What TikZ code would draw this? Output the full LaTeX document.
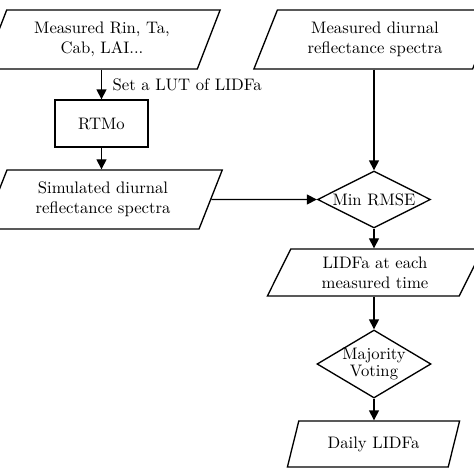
\documentclass[tikz,border=0pt]{standalone}
\usepackage{amsmath,amssymb}
\usepackage{tikz}
\usepackage{xcolor}
\usetikzlibrary{shapes.geometric,arrows.meta}

\begin{document}
\begin{tikzpicture}[x=0.6pt,y=-0.6pt,line width=0.8pt,
  >={Triangle[length=6pt,width=6pt]},
  iobox/.style={draw,trapezium,trapezium left angle=65,trapezium right angle=115,
    trapezium stretches=true,inner sep=0pt,align=center},
  procbox/.style={draw,rectangle,inner sep=0pt,align=center},
  decbox/.style={draw,diamond,inner sep=0pt,align=center}]
\useasboundingbox (0,0) rectangle (474,474);
\clip (0,0) rectangle (474,474);
\node[iobox,minimum width=142.2pt,minimum height=35.4pt] (meas) at (102,39.5) {Measured Rin, Ta,\\Cab, LAI...};
\node[iobox,minimum width=146.4pt,minimum height=35.4pt] (spec) at (375,39.5) {Measured diurnal\\reflectance spectra};
\node[procbox,minimum width=55.8pt,minimum height=28.2pt] (rtmo) at (101.5,123.5) {RTMo};
\node[iobox,minimum width=144pt,minimum height=35.4pt] (sim) at (103,199.5) {Simulated diurnal\\reflectance spectra};
\node[decbox,aspect=2,minimum width=67.8pt,minimum height=34.2pt] (rmse) at (374,199.5) {Min RMSE};
\node[iobox,minimum width=129.6pt,minimum height=28.2pt] (each) at (375,272.5) {LIDFa at each\\measured time};
\node[decbox,aspect=1.68,inner sep=-3pt,minimum width=68.4pt,minimum height=40.8pt] (vote) at (374,364) {Majority\\[-2pt]Voting};
\node[iobox,minimum width=103.8pt,minimum height=27.6pt] (daily) at (373.5,444) {Daily LIDFa};
\draw[->] (rtmo.north |- meas.south) -- node[right=3pt] {Set a LUT of LIDFa} (rtmo.north);
\draw[->] (rtmo) -- (rtmo.south |- sim.north);
\draw[->] (sim.east) -- (rmse.west);
\draw[->] (rmse.north |- spec.south) -- (rmse.north);
\draw[->] (rmse) -- (rmse.south |- each.north);
\draw[->] (vote.north |- each.south) -- (vote.north);
\draw[->] (vote) -- (vote.south |- daily.north);
\end{tikzpicture}
\end{document}
